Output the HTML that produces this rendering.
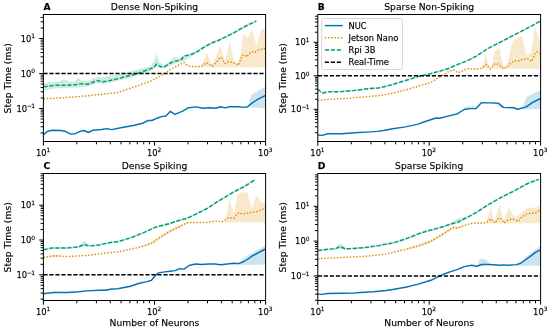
<!DOCTYPE html><html><head><meta charset="utf-8"><style>html,body{margin:0;padding:0;background:#fff;}svg{display:block}text{font-family:'DejaVu Sans', 'Liberation Sans', sans-serif;stroke:#000;stroke-width:0.25px;stroke-opacity:0.6}</style></head><body>
<svg width="550" height="332" viewBox="0 0 550 332">
<rect width="550" height="332" fill="#fff"/>
<clipPath id="clipA"><rect x="43.4" y="14.5" width="222.2" height="127"/></clipPath>
<g clip-path="url(#clipA)">
<polygon points="183,62.3 187.3,65.3 191,66.6 201.5,66.2 206.8,53.1 212,65.5 220.4,45.4 225.1,62.3 229.6,41.3 234.3,61.6 238.8,64.5 243.4,33.5 248,38.2 251.9,28.9 256.4,45.1 261.9,28.1 265.6,30.6 265.6,67.5 191,67.3 187.3,66.5 183,62.8" fill="#DE8F05" fill-opacity="0.2" stroke="none"/>
<polygon points="43.5,83.1 53.9,82 59.4,81.5 64.8,79.3 69.2,81.5 73.5,82 78.4,78.2 82.3,80.9 87.7,80.9 93.2,78.2 97.5,76.5 103,77.3 118.2,74.4 136.4,69.8 150.9,66.3 154.5,59.5 156.7,53.7 159.1,62.3 163.6,65.5 169.1,62 174.5,56.3 178.2,58.6 183.6,55 189.1,54.3 195.5,51 203.2,46.3 210.9,42 218.6,39.1 226.4,35.4 234.1,31.5 241.8,27.1 249.6,23.2 256.3,20.1 256.3,22 249.6,25.3 241.8,29.3 234.1,33.8 226.4,37.7 218.6,41.5 210.9,44.6 203.2,49 195.5,53.8 189.1,58 183.6,61.2 174.5,64.1 163.6,68.6 156.7,66.8 150.9,71.2 136.4,76 118.2,80.8 103,84.2 97.5,83.1 87.7,86.4 78.4,87.4 64.8,88 53.9,88.5 43.5,90.2" fill="#029E73" fill-opacity="0.2" stroke="none"/>
<polygon points="247.7,106 251.5,94.6 265.6,86.3 265.6,108.5 252.2,107.4 247.7,107" fill="#0173B2" fill-opacity="0.2" stroke="none"/>
<polyline points="43.5,134.6 47.7,131.2 52.2,130.2 61.1,130.5 64.9,131.2 70.6,134.1 75.1,133.7 79.5,131.6 84,130.5 88.5,132.5 92.9,130.2 101.8,129.5 106.9,128.6 111.8,129.6 120.7,127.8 133.5,125.5 142.4,123.3 148.1,120.5 151.9,120.5 157,118.2 161.5,116.6 165.9,116 170.4,111.3 174.8,114.4 182.7,111.1 188.5,107.7 196.7,106.9 202.5,108.3 209.5,107.7 215.8,108.3 220.4,106.7 225,107.9 229.7,106.8 238.6,106.8 243.2,107.4 247.7,106.7 252.2,102.9 258.2,99.1 265.6,95.4" fill="none" stroke="#0173B2" stroke-width="1.45" stroke-linejoin="round" stroke-linecap="butt"/>
<polyline points="43.5,98.8 60,98 80,96.5 102,94.3 118,92.4 123.6,90.5 136.4,86.2 150.9,81 160,76.3 163.6,74.3 167.2,71.8 170.8,69.2 174.5,67.3 178.1,65.5 181.7,63.6 184.1,62.3 186.5,64.7 188.9,65.9 192.5,66.5 195,66.6 201.5,66.2 206.1,62.9 208.7,63.6 212,66.2 215.9,62.9 219.9,57.7 221.8,58.3 225.1,63.6 229,61.6 233,62.5 236.3,63.7 238.5,65.2 240,60.7 242.3,55.4 244.6,54.9 246.8,56.9 249.1,53.9 252.1,51.6 255.1,52.4 258.1,50.1 261.1,49.4 264.1,48.6 265.6,49" fill="none" stroke="#DE8F05" stroke-width="1.45" stroke-dasharray="1.5,1.7" stroke-linejoin="round"/>
<polyline points="43.5,86.9 48,86.2 53.9,85.3 60,85.3 64.8,85.3 69,85.2 73.5,85 78.4,84.2 82.3,83.6 87.7,84.2 90.9,83.3 93.2,82 97.5,80.6 103,81.8 110,80.5 118.2,78.6 127,76.3 136.4,74 143,71.5 150.9,68.6 154,67 156.7,64.1 160.6,66.6 164.5,66.8 169.6,63.5 173.3,61.7 178.1,60.5 181.7,59.3 184.1,56 187.7,55.3 192.5,54 197.3,51.6 203.2,47.7 210.9,43.3 218.6,40.3 226.4,36.6 234.1,32.7 241.8,28.2 249.6,24.2 256.3,21" fill="none" stroke="#029E73" stroke-width="1.45" stroke-dasharray="4.2,1.8" stroke-linejoin="round"/>
<line x1="43.4" y1="73.5" x2="265.6" y2="73.5" stroke="#000" stroke-width="1.45" stroke-dasharray="4.2,1.8"/>
</g>
<path d="M43.4,141.5v4.2M76.84,141.5v2.8M96.41,141.5v2.8M110.29,141.5v2.8M121.06,141.5v2.8M129.85,141.5v2.8M137.29,141.5v2.8M143.73,141.5v2.8M149.42,141.5v2.8M154.5,141.5v4.2M187.94,141.5v2.8M207.51,141.5v2.8M221.39,141.5v2.8M232.16,141.5v2.8M240.95,141.5v2.8M248.39,141.5v2.8M254.83,141.5v2.8M260.52,141.5v2.8M265.6,141.5v4.2M43.4,132.96h-2.8M43.4,126.8h-2.8M43.4,122.43h-2.8M43.4,119.04h-2.8M43.4,116.26h-2.8M43.4,113.92h-2.8M43.4,111.89h-2.8M43.4,110.1h-2.8M43.4,108.5h-4.2M43.4,97.96h-2.8M43.4,91.8h-2.8M43.4,87.43h-2.8M43.4,84.04h-2.8M43.4,81.26h-2.8M43.4,78.92h-2.8M43.4,76.89h-2.8M43.4,75.1h-2.8M43.4,73.5h-4.2M43.4,62.96h-2.8M43.4,56.8h-2.8M43.4,52.43h-2.8M43.4,49.04h-2.8M43.4,46.26h-2.8M43.4,43.92h-2.8M43.4,41.89h-2.8M43.4,40.1h-2.8M43.4,38.5h-4.2M43.4,27.96h-2.8M43.4,21.8h-2.8M43.4,17.43h-2.8" stroke="#000" stroke-width="1.0" fill="none"/>
<rect x="43.4" y="14.5" width="222.2" height="127" fill="none" stroke="#000" stroke-width="1.0"/>
<text x="35.9" y="155.5" font-size="8.4">10</text>
<text x="46.45" y="152.1" font-size="5.9">1</text>
<text x="147" y="155.5" font-size="8.4">10</text>
<text x="157.55" y="152.1" font-size="5.9">2</text>
<text x="258.1" y="155.5" font-size="8.4">10</text>
<text x="268.65" y="152.1" font-size="5.9">3</text>
<text x="16.4" y="111.6" font-size="8.4">10</text>
<text x="27" y="108.4" font-size="5.9">−</text>
<text x="31.25" y="108.4" font-size="5.9">1</text>
<text x="20.65" y="76.6" font-size="8.4">10</text>
<text x="31.25" y="73.4" font-size="5.9">0</text>
<text x="20.65" y="41.6" font-size="8.4">10</text>
<text x="31.25" y="38.4" font-size="5.9">1</text>
<text transform="translate(11.1,78.3) rotate(-90)" font-size="9.2" text-anchor="middle">Step Time (ms)</text>
<text x="154.5" y="10.1" font-size="9.2" text-anchor="middle">Dense Non-Spiking</text>
<text x="43.4" y="9.9" font-size="9.2" font-weight="bold">A</text>
<clipPath id="clipB"><rect x="317.8" y="14.5" width="222.8" height="127"/></clipPath>
<g clip-path="url(#clipB)">
<polygon points="480,68.5 482.7,67.5 485.6,54.5 489.5,68 491.9,67 494.3,51.6 499.1,47.7 503.9,68 505.8,67 507.8,61.5 510.2,50 513.2,40.5 522,35.4 526.1,55 531,52.5 534.5,30 535.6,27.8 538.2,37 540.6,42 540.6,68.8 480,68.8" fill="#DE8F05" fill-opacity="0.2" stroke="none"/>
<polygon points="317.8,88.3 321.7,92.2 328.7,91.1 341.5,90.8 354.2,89.6 369.5,87.7 378.4,87.2 386,85.5 392.7,83.7 405.5,79.7 418.2,75.8 430.9,72.8 442.4,69.6 449,67.5 458.1,63.5 467.1,60.1 476.2,55.4 486.3,48.7 494.2,44.5 502.5,40.3 510,36.4 518.8,31.8 527,27.5 535,23.3 540.6,20.2 540.6,21.8 535,24.9 527,29.1 518.8,33.4 510,38 502.5,41.9 494.2,46.1 486.3,50.3 476.2,57 467.1,61.7 458.1,65.1 449,69.1 442.4,71.2 430.9,74.4 418.2,77.4 405.5,81.3 392.7,85.3 386,87.1 378.4,88.8 369.5,89.3 354.2,91.2 341.5,92.4 328.7,92.7 321.7,93.8 317.8,89.9" fill="#029E73" fill-opacity="0.2" stroke="none"/>
<polygon points="462,110.5 466,106.5 470.5,106.2 476.2,106.5 479,105.5 479,107 476.2,108.6 470.5,108.6 464.1,109.5 462,111" fill="#0173B2" fill-opacity="0.2" stroke="none"/>
<polygon points="496,103.3 498.5,103.3 503.5,107.4 505,107.6 505,107.8 501,108 498,106 496,103.6" fill="#0173B2" fill-opacity="0.2" stroke="none"/>
<polygon points="522,108.2 527,96.7 540.6,90 540.6,109.3 522,109.3" fill="#0173B2" fill-opacity="0.2" stroke="none"/>
<polyline points="317.8,135 322.4,135.4 327.5,133.7 341.5,133.7 354.2,132.8 366.9,132.1 377.1,131.4 383.5,130.5 392.7,128.8 405.5,126.9 418.2,124.1 424.5,121.8 436,118 439.8,118.3 445,116.9 457.7,113.7 464.1,109.5 470.5,108.6 476.2,108.6 481.3,102.7 489.5,102.9 498.5,103.3 503.5,107.4 513.4,107.8 517.9,109.3 526.3,106.9 532.3,102.7 540.6,98.5" fill="none" stroke="#0173B2" stroke-width="1.45" stroke-linejoin="round" stroke-linecap="butt"/>
<polyline points="317.8,100.5 328.7,99.3 347.8,98.3 366.9,96.7 380,95.5 392.7,93.2 405.5,90 418.2,86.2 430.9,82.4 436,79.2 442.4,75.4 449,71.5 453.6,69.7 458,72.8 467.1,68.8 476.2,69 479.8,68.7 482.2,68 484.6,65.5 486.6,64.6 490.4,68.9 494.3,64.1 496.7,63.6 499.1,64.9 503.9,68.9 508.3,65.5 510.7,63.1 513.9,60.7 518.8,60.7 523.7,59 527.7,59 531.8,61.5 534.2,55 536.7,51.7 540.6,53.5" fill="none" stroke="#DE8F05" stroke-width="1.45" stroke-dasharray="1.5,1.7" stroke-linejoin="round"/>
<polyline points="317.8,89.1 321.7,93 328.7,91.9 341.5,91.6 354.2,90.4 369.5,88.5 378.4,88 386,86.3 392.7,84.5 405.5,80.5 418.2,76.6 430.9,73.6 442.4,70.4 449,68.3 458.1,64.3 467.1,60.9 476.2,56.2 486.3,49.5 494.2,45.3 502.5,41.1 510,37.2 518.8,32.6 527,28.3 535,24.1 540.6,21" fill="none" stroke="#029E73" stroke-width="1.45" stroke-dasharray="4.2,1.8" stroke-linejoin="round"/>
<line x1="317.8" y1="75.8" x2="540.6" y2="75.8" stroke="#000" stroke-width="1.45" stroke-dasharray="4.2,1.8"/>
</g>
<path d="M317.8,141.5v4.2M351.33,141.5v2.8M370.95,141.5v2.8M384.87,141.5v2.8M395.67,141.5v2.8M404.49,141.5v2.8M411.94,141.5v2.8M418.4,141.5v2.8M424.1,141.5v2.8M429.2,141.5v4.2M462.73,141.5v2.8M482.35,141.5v2.8M496.27,141.5v2.8M507.07,141.5v2.8M515.89,141.5v2.8M523.34,141.5v2.8M529.8,141.5v2.8M535.5,141.5v2.8M540.6,141.5v4.2M317.8,132.72h-2.8M317.8,126.82h-2.8M317.8,122.63h-2.8M317.8,119.38h-2.8M317.8,116.73h-2.8M317.8,114.49h-2.8M317.8,112.55h-2.8M317.8,110.83h-2.8M317.8,109.3h-4.2M317.8,99.22h-2.8M317.8,93.32h-2.8M317.8,89.13h-2.8M317.8,85.88h-2.8M317.8,83.23h-2.8M317.8,80.99h-2.8M317.8,79.05h-2.8M317.8,77.33h-2.8M317.8,75.8h-4.2M317.8,65.72h-2.8M317.8,59.82h-2.8M317.8,55.63h-2.8M317.8,52.38h-2.8M317.8,49.73h-2.8M317.8,47.49h-2.8M317.8,45.55h-2.8M317.8,43.83h-2.8M317.8,42.3h-4.2M317.8,32.22h-2.8M317.8,26.32h-2.8M317.8,22.13h-2.8M317.8,18.88h-2.8M317.8,16.23h-2.8" stroke="#000" stroke-width="1.0" fill="none"/>
<rect x="317.8" y="14.5" width="222.8" height="127" fill="none" stroke="#000" stroke-width="1.0"/>
<text x="310.3" y="155.5" font-size="8.4">10</text>
<text x="320.85" y="152.1" font-size="5.9">1</text>
<text x="421.7" y="155.5" font-size="8.4">10</text>
<text x="432.25" y="152.1" font-size="5.9">2</text>
<text x="533.1" y="155.5" font-size="8.4">10</text>
<text x="543.65" y="152.1" font-size="5.9">3</text>
<text x="290.8" y="112.4" font-size="8.4">10</text>
<text x="301.4" y="109.2" font-size="5.9">−</text>
<text x="305.65" y="109.2" font-size="5.9">1</text>
<text x="295.05" y="78.9" font-size="8.4">10</text>
<text x="305.65" y="75.7" font-size="5.9">0</text>
<text x="295.05" y="45.4" font-size="8.4">10</text>
<text x="305.65" y="42.2" font-size="5.9">1</text>
<text transform="translate(285.5,78.3) rotate(-90)" font-size="9.2" text-anchor="middle">Step Time (ms)</text>
<text x="429.2" y="10.1" font-size="9.2" text-anchor="middle">Sparse Non-Spiking</text>
<text x="317.8" y="9.9" font-size="9.2" font-weight="bold">B</text>
<clipPath id="clipC"><rect x="43.4" y="173.5" width="222.2" height="127"/></clipPath>
<g clip-path="url(#clipC)">
<polygon points="223,222.3 225.6,221 229.5,199.4 234,214 237.3,194.5 240.2,193.1 247.1,191.9 252,208.2 256.3,195.5 261.8,202.3 265.6,202.3 265.6,222.5 223,222.5" fill="#DE8F05" fill-opacity="0.2" stroke="none"/>
<polygon points="138,247.64 140.7,246.54 143.4,245.43 146.1,244.23 148.8,242.89 151.5,241.55 154.2,239.99 156.9,237.99 159.6,236 162.3,234.31 165,232.68 167.7,231.05 170.4,229.56 173.1,228.22 175.8,226.89 178.5,225.55 181.2,224.5 183.9,223.46 186.6,222.41 189.3,222.32 192,222.56 192,222.56 189.3,222.96 186.6,223.69 183.9,225.38 181.2,227.06 178.5,228.75 175.8,230.09 173.1,231.42 170.4,232.76 167.7,234.25 165,235.88 162.3,237.51 159.6,239.2 156.9,241.19 154.2,243.19 151.5,244.75 148.8,245.45 146.1,246.15 143.4,246.71 140.7,247.18 138,247.64" fill="#DE8F05" fill-opacity="0.2" stroke="none"/>
<polygon points="48,256.82 48.7,256.47 49.4,256.12 50.1,255.78 50.8,255.43 51.5,255.09 52.2,254.98 52.9,254.87 53.6,254.77 54.3,254.66 55,254.62 55.7,254.66 56.4,254.71 57.1,254.75 57.8,254.79 58.5,254.84 59.2,255.12 59.9,255.41 60.6,255.69 61.3,255.97 62,256.26 62,256.26 61.3,256.45 60.6,256.65 59.9,256.85 59.2,257.04 58.5,257.24 57.8,257.19 57.1,257.15 56.4,257.11 55.7,257.06 55,257.02 54.3,257.06 53.6,257.17 52.9,257.27 52.2,257.38 51.5,257.49 50.8,257.35 50.1,257.22 49.4,257.08 48.7,256.95 48,256.82" fill="#DE8F05" fill-opacity="0.2" stroke="none"/>
<polygon points="43.5,248.8 52.2,246.9 67.5,246.9 78.9,245.9 84,240.8 89.1,245 99.3,244 105,242.6 112,241.2 117.7,240.7 130.5,236.9 143.2,231.8 155.9,226.1 166.1,223.5 170,222.5 175,220.6 187.3,217.2 196.4,212.8 207.3,207.4 218.2,200.2 224.4,196.6 233.3,191.2 244.2,185.6 255.5,178.4 255.5,180.4 244.2,187.6 233.3,193.2 224.4,198.6 218.2,202.2 207.3,209.4 196.4,214.8 187.3,219.2 175,222.6 170,224.5 166.1,225.5 155.9,228.1 143.2,233.8 130.5,238.9 117.7,242.7 112,243.2 105,244.6 99.3,246 89.1,247 84,246.3 78.9,247.9 67.5,248.9 52.2,248.9 43.5,250.8" fill="#029E73" fill-opacity="0.2" stroke="none"/>
<polygon points="239,263.6 242,259.5 248,255.2 256,251 265.6,245.3 265.6,264.6 244,265 239,264.2" fill="#0173B2" fill-opacity="0.2" stroke="none"/>
<polyline points="43.5,293.7 47.1,293.3 53.5,292.5 67.5,292.5 78.9,291.8 86.5,290.9 99.3,290.3 105,290.3 112,289 117.7,288.8 130.5,286.3 139.4,283.3 147,281.6 151.5,280.2 155.9,274.8 158.5,272.9 164.8,271.9 170,271.3 175.1,270.6 179.5,268.7 184,269.1 189.1,265.5 195.5,264 201.8,264.5 208.2,264 214.5,264 220.9,264.7 233.6,263.3 238.7,263.7 244,261.5 248,259 252,256.2 258,252.8 265.6,249" fill="none" stroke="#0173B2" stroke-width="1.45" stroke-linejoin="round" stroke-linecap="butt"/>
<polyline points="43.5,257.5 54.7,255.8 67.5,256.6 86.5,255.5 105,253.2 117.7,251.9 130.5,249.2 138.2,247.6 145,245.6 152.7,242.7 160,237.3 169.1,231.8 178.2,227.3 187.3,222.7 197.1,222.4 206.2,222.4 215.2,221.1 218,221.3 221.9,221.9 225.1,220 227.7,218 231,218 234.2,218 236.8,214.1 239.4,212.8 242.6,214.1 245.9,213.5 249.1,212.8 253,212.2 256.9,211.6 260.7,210.3 263.3,209 265.6,208.3" fill="none" stroke="#DE8F05" stroke-width="1.45" stroke-dasharray="1.5,1.7" stroke-linejoin="round"/>
<polyline points="43.5,249.8 52.2,247.9 67.5,247.9 78.9,246.9 84,244.3 89.1,246 99.3,245 105,243.6 112,242.2 117.7,241.7 130.5,237.9 143.2,232.8 155.9,227.1 166.1,224.5 170,223.5 175,221.6 187.3,218.2 196.4,213.8 207.3,208.4 218.2,201.2 224.4,197.6 233.3,192.2 244.2,186.6 255.5,179.4" fill="none" stroke="#029E73" stroke-width="1.45" stroke-dasharray="4.2,1.8" stroke-linejoin="round"/>
<line x1="43.4" y1="274.8" x2="265.6" y2="274.8" stroke="#000" stroke-width="1.45" stroke-dasharray="4.2,1.8"/>
</g>
<path d="M43.4,300.5v4.2M76.84,300.5v2.8M96.41,300.5v2.8M110.29,300.5v2.8M121.06,300.5v2.8M129.85,300.5v2.8M137.29,300.5v2.8M143.73,300.5v2.8M149.42,300.5v2.8M154.5,300.5v4.2M187.94,300.5v2.8M207.51,300.5v2.8M221.39,300.5v2.8M232.16,300.5v2.8M240.95,300.5v2.8M248.39,300.5v2.8M254.83,300.5v2.8M260.52,300.5v2.8M265.6,300.5v4.2M43.4,299.12h-2.8M43.4,293h-2.8M43.4,288.65h-2.8M43.4,285.28h-2.8M43.4,282.52h-2.8M43.4,280.19h-2.8M43.4,278.17h-2.8M43.4,276.39h-2.8M43.4,274.8h-4.2M43.4,264.32h-2.8M43.4,258.2h-2.8M43.4,253.85h-2.8M43.4,250.48h-2.8M43.4,247.72h-2.8M43.4,245.39h-2.8M43.4,243.37h-2.8M43.4,241.59h-2.8M43.4,240h-4.2M43.4,229.52h-2.8M43.4,223.4h-2.8M43.4,219.05h-2.8M43.4,215.68h-2.8M43.4,212.92h-2.8M43.4,210.59h-2.8M43.4,208.57h-2.8M43.4,206.79h-2.8M43.4,205.2h-4.2M43.4,194.72h-2.8M43.4,188.6h-2.8M43.4,184.25h-2.8M43.4,180.88h-2.8M43.4,178.12h-2.8M43.4,175.79h-2.8M43.4,173.77h-2.8" stroke="#000" stroke-width="1.0" fill="none"/>
<rect x="43.4" y="173.5" width="222.2" height="127" fill="none" stroke="#000" stroke-width="1.0"/>
<text x="35.9" y="314.5" font-size="8.4">10</text>
<text x="46.45" y="311.1" font-size="5.9">1</text>
<text x="147" y="314.5" font-size="8.4">10</text>
<text x="157.55" y="311.1" font-size="5.9">2</text>
<text x="258.1" y="314.5" font-size="8.4">10</text>
<text x="268.65" y="311.1" font-size="5.9">3</text>
<text x="16.4" y="277.9" font-size="8.4">10</text>
<text x="27" y="274.7" font-size="5.9">−</text>
<text x="31.25" y="274.7" font-size="5.9">1</text>
<text x="20.65" y="243.1" font-size="8.4">10</text>
<text x="31.25" y="239.9" font-size="5.9">0</text>
<text x="20.65" y="208.3" font-size="8.4">10</text>
<text x="31.25" y="205.1" font-size="5.9">1</text>
<text transform="translate(11.1,237.3) rotate(-90)" font-size="9.2" text-anchor="middle">Step Time (ms)</text>
<text x="154.5" y="169.1" font-size="9.2" text-anchor="middle">Dense Spiking</text>
<text x="43.4" y="168.9" font-size="9.2" font-weight="bold">C</text>
<text x="154.5" y="325.8" font-size="9.2" text-anchor="middle">Number of Neurons</text>
<clipPath id="clipD"><rect x="317.8" y="173.5" width="222.8" height="127"/></clipPath>
<g clip-path="url(#clipD)">
<polygon points="486,222.5 490.7,207.3 494.5,222 499.7,204 503.5,221.5 508.4,208.2 515.2,217 519,215 527,208.2 536.8,207.2 540.6,204.8 540.6,223.3 486,223.3" fill="#DE8F05" fill-opacity="0.2" stroke="none"/>
<polygon points="400,250.66 403.5,249.6 407,248.43 410.5,247.12 414,245.81 417.5,244.5 421,243.33 424.5,242.11 428,240.89 431.5,239.31 435,237.23 438.5,235.16 442,232.97 445.5,230.77 449,228.58 452.5,226.39 456,226.6 459.5,226.41 463,225.42 466.5,224.49 470,223.6 470,223.6 466.5,225.13 463,226.7 459.5,228.34 456,229.16 452.5,229.59 449,231.78 445.5,233.97 442,236.17 438.5,238.36 435,240.43 431.5,242.51 428,244.09 424.5,245.31 421,246.53 417.5,247.7 414,248.37 410.5,249.04 407,249.71 403.5,250.24 400,250.66" fill="#DE8F05" fill-opacity="0.2" stroke="none"/>
<polygon points="317.8,249.5 328.7,248.2 335.1,247.8 340.2,243.1 345.3,247.9 354.2,247.5 366.9,246.3 379.6,244.4 386,243.1 392.7,242.1 405.5,238 414.4,234.5 418.2,232.9 427.1,230 434.7,228.1 443.6,225.5 450,223.3 458.1,218.45 467.1,216.4 477,211 489.1,203.2 501.1,196.4 513.2,190.4 524,184.4 530,181.5 538.7,178.4 538.7,180.4 530,183.5 524,186.4 513.2,192.4 501.1,198.4 489.1,205.2 477,213 467.1,218.4 458.1,223.39 450,225.3 443.6,227.5 434.7,230.1 427.1,232 418.2,234.9 414.4,236.5 405.5,240 392.7,244.1 386,245.1 379.6,246.4 366.9,248.3 354.2,249.5 345.3,249.9 340.2,248.6 335.1,249.8 328.7,250.2 317.8,251.5" fill="#029E73" fill-opacity="0.2" stroke="none"/>
<polygon points="477.5,265.5 478.6,262 479.6,259.6 481,258.6 483,258.5 485,259.2 487.2,260.8 488.7,262.5 490,264.3 490,264.6 477.5,266" fill="#0173B2" fill-opacity="0.2" stroke="none"/>
<polygon points="516.3,264.5 520,262.3 524,258.5 531,252.8 540.6,245.8 540.6,265.7 516.3,265.7" fill="#0173B2" fill-opacity="0.2" stroke="none"/>
<polyline points="317.8,294.1 322.4,294.4 327.5,293.5 341.5,293.3 352.9,293.1 360.5,292.5 373.3,291.8 386,290.5 392.7,289.5 405.5,287.2 418.2,284.1 430.9,280.3 437.3,277.1 443.6,274.2 450,271.9 457.7,269.4 464.1,266.6 471.7,265.3 476.8,266.2 481.9,264.5 489.5,264.5 499.7,265.2 503.5,264.9 508.6,265.3 516.3,264.6 520.2,263.5 524,261 531.6,255.3 535.4,252.4 540.6,249.8" fill="none" stroke="#0173B2" stroke-width="1.45" stroke-linejoin="round" stroke-linecap="butt"/>
<polyline points="317.8,258.7 341.5,257.5 366.9,256.2 386,254 396.5,251.4 405.5,249.5 418.2,245.9 430,241.8 439.1,236.4 446.4,231.8 453.6,227.3 457.3,228.2 464.5,225.5 470,223.6 476.2,223 483.1,223.1 486.6,222.5 490.6,218.8 492.9,221.1 495.2,223.1 498,218.5 500.3,218.5 502.6,220.8 504.3,223.1 506.6,220.8 509.5,219.6 512.4,219 515.2,220.2 518.1,221.3 522.1,216.8 525,215 527.2,213.9 530.1,213.3 533,213.3 535.8,212.8 538.1,211 540.6,210.5" fill="none" stroke="#DE8F05" stroke-width="1.45" stroke-dasharray="1.5,1.7" stroke-linejoin="round"/>
<polyline points="317.8,250.5 328.7,249.2 335.1,248.8 340.2,246.6 345.3,248.9 354.2,248.5 366.9,247.3 379.6,245.4 386,244.1 392.7,243.1 405.5,239 414.4,235.5 418.2,233.9 427.1,231 434.7,229.1 443.6,226.5 450,224.3 458.1,221.9 467.1,217.4 477,212 489.1,204.2 501.1,197.4 513.2,191.4 524,185.4 530,182.5 538.7,179.4" fill="none" stroke="#029E73" stroke-width="1.45" stroke-dasharray="4.2,1.8" stroke-linejoin="round"/>
<line x1="317.8" y1="275.9" x2="540.6" y2="275.9" stroke="#000" stroke-width="1.45" stroke-dasharray="4.2,1.8"/>
</g>
<path d="M317.8,300.5v4.2M351.33,300.5v2.8M370.95,300.5v2.8M384.87,300.5v2.8M395.67,300.5v2.8M404.49,300.5v2.8M411.94,300.5v2.8M418.4,300.5v2.8M424.1,300.5v2.8M429.2,300.5v4.2M462.73,300.5v2.8M482.35,300.5v2.8M496.27,300.5v2.8M507.07,300.5v2.8M515.89,300.5v2.8M523.34,300.5v2.8M529.8,300.5v2.8M535.5,300.5v2.8M540.6,300.5v4.2M317.8,300.22h-2.8M317.8,294.1h-2.8M317.8,289.75h-2.8M317.8,286.38h-2.8M317.8,283.62h-2.8M317.8,281.29h-2.8M317.8,279.27h-2.8M317.8,277.49h-2.8M317.8,275.9h-4.2M317.8,265.42h-2.8M317.8,259.3h-2.8M317.8,254.95h-2.8M317.8,251.58h-2.8M317.8,248.82h-2.8M317.8,246.49h-2.8M317.8,244.47h-2.8M317.8,242.69h-2.8M317.8,241.1h-4.2M317.8,230.62h-2.8M317.8,224.5h-2.8M317.8,220.15h-2.8M317.8,216.78h-2.8M317.8,214.02h-2.8M317.8,211.69h-2.8M317.8,209.67h-2.8M317.8,207.89h-2.8M317.8,206.3h-4.2M317.8,195.82h-2.8M317.8,189.7h-2.8M317.8,185.35h-2.8M317.8,181.98h-2.8M317.8,179.22h-2.8M317.8,176.89h-2.8M317.8,174.87h-2.8" stroke="#000" stroke-width="1.0" fill="none"/>
<rect x="317.8" y="173.5" width="222.8" height="127" fill="none" stroke="#000" stroke-width="1.0"/>
<text x="310.3" y="314.5" font-size="8.4">10</text>
<text x="320.85" y="311.1" font-size="5.9">1</text>
<text x="421.7" y="314.5" font-size="8.4">10</text>
<text x="432.25" y="311.1" font-size="5.9">2</text>
<text x="533.1" y="314.5" font-size="8.4">10</text>
<text x="543.65" y="311.1" font-size="5.9">3</text>
<text x="290.8" y="279" font-size="8.4">10</text>
<text x="301.4" y="275.8" font-size="5.9">−</text>
<text x="305.65" y="275.8" font-size="5.9">1</text>
<text x="295.05" y="244.2" font-size="8.4">10</text>
<text x="305.65" y="241" font-size="5.9">0</text>
<text x="295.05" y="209.4" font-size="8.4">10</text>
<text x="305.65" y="206.2" font-size="5.9">1</text>
<text transform="translate(285.5,237.3) rotate(-90)" font-size="9.2" text-anchor="middle">Step Time (ms)</text>
<text x="429.2" y="169.1" font-size="9.2" text-anchor="middle">Sparse Spiking</text>
<text x="317.8" y="168.9" font-size="9.2" font-weight="bold">D</text>
<text x="429.2" y="325.8" font-size="9.2" text-anchor="middle">Number of Neurons</text>
<rect x="321.6" y="18.5" width="80.8" height="51" rx="2" ry="2" fill="#fff" fill-opacity="0.8" stroke="#ccc" stroke-width="0.8"/>
<line x1="324.8" y1="25.6" x2="342.8" y2="25.6" stroke="#0173B2" stroke-width="1.45"/>
<text x="348.5" y="28.6" font-size="8.3">NUC</text>
<line x1="324.8" y1="37.8" x2="342.8" y2="37.8" stroke="#DE8F05" stroke-width="1.45" stroke-dasharray="1.5,1.7"/>
<text x="348.5" y="40.8" font-size="8.3">Jetson Nano</text>
<line x1="324.8" y1="50" x2="342.8" y2="50" stroke="#029E73" stroke-width="1.45" stroke-dasharray="4.2,1.8"/>
<text x="348.5" y="53" font-size="8.3">Rpi 3B</text>
<line x1="324.8" y1="62.2" x2="342.8" y2="62.2" stroke="#000" stroke-width="1.45" stroke-dasharray="4.2,1.8"/>
<text x="348.5" y="65.2" font-size="8.3">Real-Time</text>
</svg></body></html>
